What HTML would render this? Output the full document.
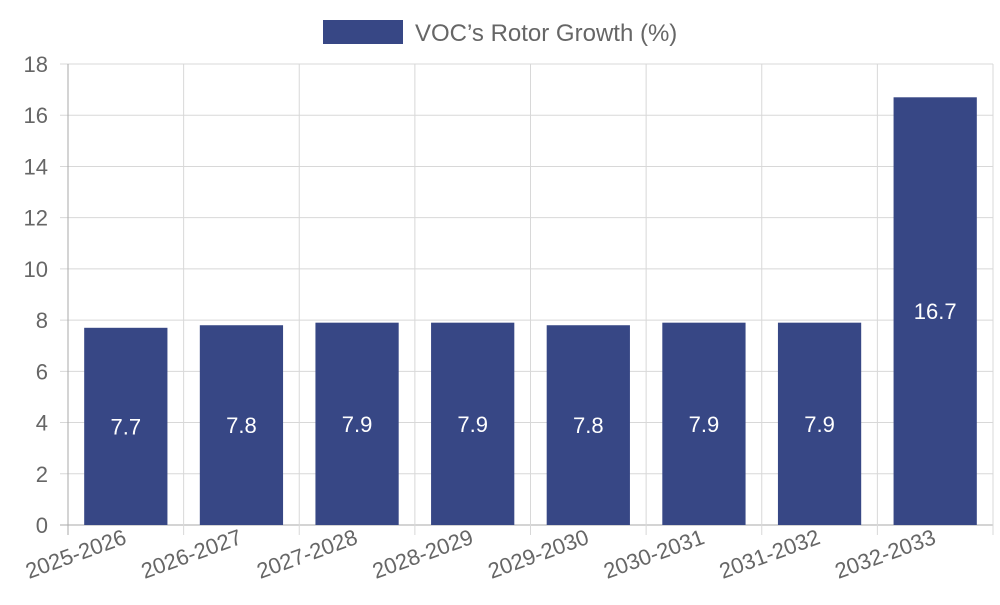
<!DOCTYPE html>
<html><head><meta charset="utf-8"><style>
body{margin:0;background:#fff;}
svg text{font-family:"Liberation Sans",sans-serif;}
</style></head><body>
<svg id="chart" width="1000" height="600"></svg>
<script>
const categories=["2025-2026","2026-2027","2027-2028","2028-2029","2029-2030","2030-2031","2031-2032","2032-2033"];
const values=[7.7,7.8,7.9,7.9,7.8,7.9,7.9,16.7];
const yTicks=[0,2,4,6,8,10,12,14,16,18];
const seriesName="VOC’s Rotor Growth (%)";
const svg=document.getElementById('chart');
const NS='http://www.w3.org/2000/svg';
const L=68,R=993,T=64,B=525,yMax=18;
const y=v=>B-(v/yMax)*(B-T);
const cw=(R-L)/categories.length;
const x=i=>L+i*cw;
function mk(tag,attrs,parent){const e=document.createElementNS(NS,tag);for(const k in attrs)e.setAttribute(k,attrs[k]);(parent||svg).appendChild(e);return e;}
const lg=mk('g',{});


mk('rect',{x:323,y:20,width:80,height:24,fill:'#374785'},lg);
const lt=mk('text',{x:415,y:41,'font-size':24,fill:'#666'},lg);lt.textContent=seriesName;
yTicks.forEach(t=>{
  const gy=y(t);
  const ln=mk('line',{x1:60,x2:R,y1:gy,y2:gy,stroke:t===0?'#aaa':'#d8d8d8','stroke-width':1});
  
  
  const tx=mk('text',{x:48,y:gy+8,'font-size':22,fill:'#666','text-anchor':'end'});
  
  
  tx.textContent=t;
});
for(let i=0;i<=categories.length;i++){
  const gx=x(i);
  const ln=mk('line',{x1:gx,x2:gx,y1:T,y2:B+10,stroke:i===0?'#aaa':'#d8d8d8','stroke-width':1});
  
  
}
categories.forEach((c,i)=>{
  const bw=cw*0.72;
  const bx=x(i)+(cw-bw)/2;
  const r=mk('rect',{x:bx,y:y(values[i]),width:bw,height:B-y(values[i]),fill:'#374785'});
  
  
  const vl=mk('text',{x:bx+bw/2,y:(y(values[i])+B)/2+8,'font-size':22,fill:'#fff','text-anchor':'middle'});
  
  
  vl.textContent=values[i];
  const cx=x(i)+cw/2;
  const ax=cx+2, ay=543;
  const xl=mk('text',{x:ax,y:ay,'font-size':22,fill:'#666','text-anchor':'end',transform:`rotate(-20 ${ax} ${ay})`});
  
  
  xl.textContent=c;
});
</script>
</body></html>
